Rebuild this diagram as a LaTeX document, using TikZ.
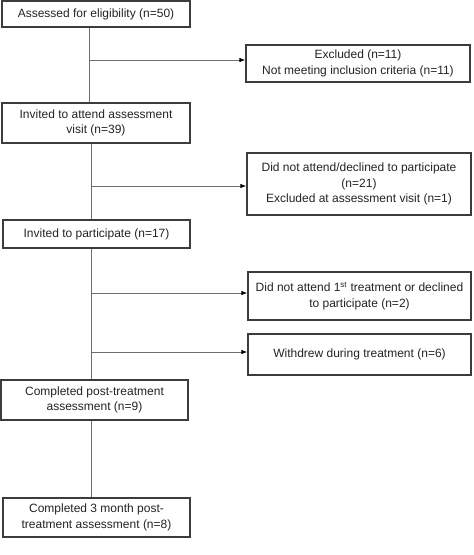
\documentclass[tikz,border=0pt]{standalone}
\usepackage{fontspec}
\setmainfont{Liberation Sans}
\usetikzlibrary{arrows.meta}
\definecolor{boxline}{RGB}{60,60,60}
\definecolor{connline}{RGB}{110,110,110}
\definecolor{txt}{RGB}{35,35,35}
\begin{document}
\begin{tikzpicture}[x=1pt,y=1pt,
  box/.style={draw=boxline,line width=1.3pt,inner sep=0pt,align=center,
    text=txt,font=\fontsize{12}{15.5}\selectfont},
  conn/.style={draw=connline,line width=0.8pt},
  arr/.style={conn,-{Latex[length=6pt,width=4.5pt,black]}}]
\useasboundingbox (0,0) rectangle (474,-555);
\node[box,minimum width=188pt,minimum height=26pt] (b1) at (96,-14) {Assessed for eligibility (n=50)};
\node[box,minimum width=224pt,minimum height=37pt] (e1) at (358,-63.5) {Excluded (n=11)\\Not meeting inclusion criteria (n=11)};
\node[box,minimum width=188pt,minimum height=40pt] (b2) at (96,-123) {Invited to attend assessment\\visit (n=39)};
\node[box,minimum width=224pt,minimum height=62pt] (e2) at (359,-184) {Did not attend/declined to participate\\(n=21)\\Excluded at assessment visit (n=1)};
\node[box,minimum width=187pt,minimum height=28pt] (b3) at (96.5,-234) {Invited to participate (n=17)};
\node[box,minimum width=223pt,minimum height=48pt] (e3) at (359.5,-296) {Did not attend 1\textsuperscript{st} treatment or declined\\to participate (n=2)};
\node[box,minimum width=223pt,minimum height=41pt] (e4) at (359.5,-354.5) {Withdrew during treatment (n=6)};
\node[box,minimum width=187pt,minimum height=40pt] (b4) at (94.5,-400) {Completed post-treatment\\assessment (n=9)};
\node[box,minimum width=187pt,minimum height=39pt] (b5) at (96.5,-517.5) {Completed 3 month post-\\treatment assessment (n=8)};
\coordinate (j1) at (89,-60);
\coordinate (j2) at (91,-186);
\coordinate (j3) at (91,-293);
\coordinate (j4) at (91,-352);
\draw[conn] (b1.south -| j1) -- (b2.north -| j1);
\draw[arr] (j1) -- (e1.west |- j1);
\draw[conn] (b2.south -| j2) -- (b3.north -| j2);
\draw[arr] (j2) -- (e2.west |- j2);
\draw[conn] (b3.south -| j3) -- (b4.north -| j3);
\draw[arr] (j3) -- (e3.west |- j3);
\draw[arr] (j4) -- (e4.west |- j4);
\draw[conn] (b4.south -| j3) -- (b5.north -| j3);
\end{tikzpicture}
\end{document}
